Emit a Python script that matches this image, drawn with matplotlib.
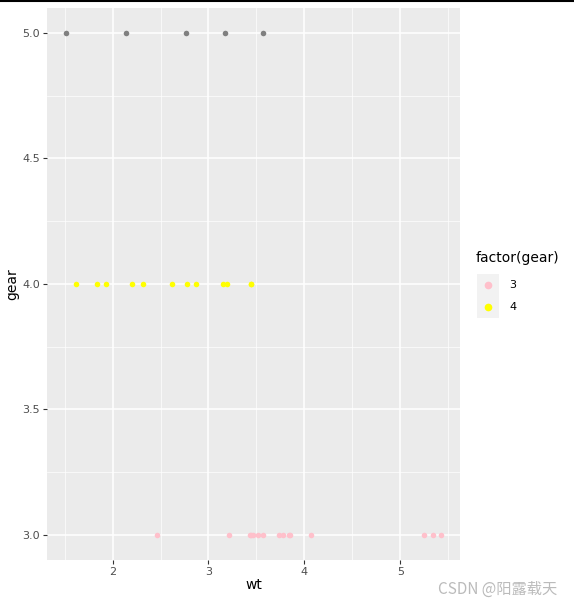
import matplotlib.pyplot as plt
import numpy as np
from matplotlib.lines import Line2D
from matplotlib.patches import Rectangle

plt.rcParams['font.family'] = ['DejaVu Sans', 'Noto Sans CJK SC']

wt3 = [3.215, 3.44, 3.46, 3.57, 4.07, 3.73, 3.78, 5.25, 5.424, 5.345, 2.465, 3.52, 3.435, 3.84, 3.845]
wt4 = [2.62, 2.875, 2.32, 3.19, 3.15, 3.44, 3.44, 2.2, 1.615, 1.835, 1.935, 2.78]
wt5 = [2.14, 1.513, 3.17, 2.77, 3.57]
groups = [(3, wt3, 'pink'), (4, wt4, 'yellow'), (5, wt5, 'grey')]
legend_labels = ['3', '4']

W, H = 574, 604
fig = plt.figure(figsize=(5.74, 6.04), dpi=100)
ax = fig.add_axes([0.082, 0.073, 0.719, 0.914])
ax.set_facecolor('#EBEBEB')
for g, w, c in groups:
    ax.scatter(w, [g] * len(w), s=16, color=c, zorder=3, linewidths=0)

ax.set_xlim(1.513 - 0.196, 5.424 + 0.196)
ax.set_ylim(2.9, 5.1)
ax.set_xticks([2, 3, 4, 5])
ax.set_yticks([3.0, 3.5, 4.0, 4.5, 5.0])
ax.set_yticklabels(['3.0', '3.5', '4.0', '4.5', '5.0'])
ax.set_xticks(np.arange(1.5, 5.6, 1.0), minor=True)
ax.set_yticks([3.25, 3.75, 4.25, 4.75], minor=True)
ax.grid(which='major', color='white', linewidth=1.1)
ax.grid(which='minor', color='white', linewidth=0.5)
ax.tick_params(which='both', length=3, color='#333333', labelsize=8, labelcolor='#4D4D4D', pad=2)
ax.tick_params(which='minor', length=0)
for s in ax.spines.values():
    s.set_visible(False)
ax.set_axisbelow(True)
ax.set_xlabel('wt', fontsize=10, labelpad=1)
ax.set_ylabel('gear', fontsize=10, labelpad=2)

# legend drawn by hand, ggplot style
fig.text(476 / W, 1 - 258 / H, 'factor(gear)', fontsize=10, va='center')
for i, (lab, (_, _, c)) in enumerate(zip(legend_labels, groups[:2])):
    yc = 285 + 22 * i
    fig.add_artist(Rectangle((477 / W, 1 - (yc + 11) / H), 22 / W, 22 / H,
                             transform=fig.transFigure, facecolor='#F2F2F2', edgecolor='none'))
    fig.add_artist(Line2D([488 / W], [1 - yc / H], marker='o', color=c, markersize=4.5, linestyle=''))
    fig.text(509 / W, 1 - yc / H, lab, fontsize=8, va='center')

fig.add_artist(Line2D([0, 1], [0.999, 0.999], color='black', linewidth=1.5))
fig.text(0.97, 0.017, 'CSDN @阳露载天', ha='right', fontsize=11, color='#BBBBBB',
         family=['Noto Sans CJK SC', 'DejaVu Sans'])

fig.savefig('out.png')
